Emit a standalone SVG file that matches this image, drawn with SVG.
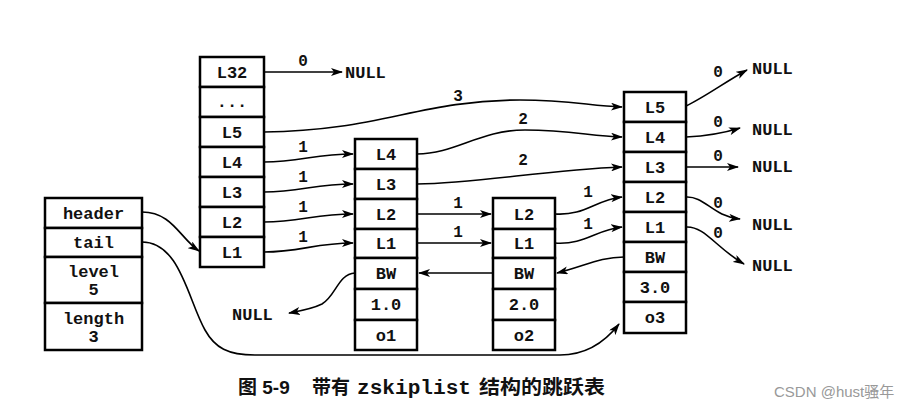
<svg xmlns="http://www.w3.org/2000/svg" width="912" height="409" viewBox="0 0 912 409">
<style>
.box{fill:#fff;stroke:#000;stroke-width:2.5}
.t{font-family:"Liberation Mono","Courier New",monospace;font-size:17px;font-weight:bold;text-anchor:middle;fill:#111}
.n{font-family:"Liberation Mono","Courier New",monospace;font-size:17px;font-weight:bold;fill:#111}
.lb{font-family:"Liberation Mono","Courier New",monospace;font-size:16px;font-weight:bold;text-anchor:middle;fill:#111}
.e{fill:none;stroke:#000;stroke-width:1.6;marker-end:url(#ah)}
.cap{font-family:"Liberation Sans","Noto Sans CJK SC",sans-serif;font-size:19px;font-weight:bold;fill:#111}
.capm{font-family:"Liberation Mono","Courier New",monospace;font-size:20px;font-weight:bold;fill:#111}
</style>
<defs>
<marker id="ah" viewBox="0 0 12 8" refX="11" refY="4" markerWidth="12" markerHeight="8" markerUnits="userSpaceOnUse" orient="auto">
<path d="M0,0 L12,4 L0,8 L3,4 Z" fill="#000"/>
</marker>
</defs>
<rect width="912" height="409" fill="#fff"/>

<g id="zskiplist">
<rect class="box" x="45" y="198" width="97" height="30"/>
<rect class="box" x="45" y="228" width="97" height="29"/>
<rect class="box" x="45" y="257" width="97" height="46"/>
<rect class="box" x="45" y="303" width="97" height="47"/>
<text class="t" x="93.5" y="219">header</text>
<text class="t" x="93.5" y="248">tail</text>
<text class="t" x="93.5" y="277">level</text>
<text class="t" x="93.5" y="295">5</text>
<text class="t" x="93.5" y="324">length</text>
<text class="t" x="93.5" y="342">3</text>
</g>

<g id="headnode">
<rect class="box" x="200" y="57" width="64" height="30"/>
<rect class="box" x="200" y="87" width="64" height="30"/>
<rect class="box" x="200" y="117" width="64" height="30"/>
<rect class="box" x="200" y="147" width="64" height="30"/>
<rect class="box" x="200" y="177" width="64" height="30"/>
<rect class="box" x="200" y="207" width="64" height="30"/>
<rect class="box" x="200" y="237" width="64" height="30"/>
<text class="t" x="232" y="78">L32</text>
<text class="t" x="232" y="107">...</text>
<text class="t" x="232" y="138">L5</text>
<text class="t" x="232" y="168">L4</text>
<text class="t" x="232" y="198">L3</text>
<text class="t" x="232" y="228">L2</text>
<text class="t" x="232" y="258">L1</text>
</g>

<g id="node1">
<rect class="box" x="355" y="139" width="62" height="30"/>
<rect class="box" x="355" y="169" width="62" height="30"/>
<rect class="box" x="355" y="199" width="62" height="30"/>
<rect class="box" x="355" y="229" width="62" height="29"/>
<rect class="box" x="355" y="258" width="62" height="31"/>
<rect class="box" x="355" y="289" width="62" height="31"/>
<rect class="box" x="355" y="320" width="62" height="30"/>
<text class="t" x="386" y="160">L4</text>
<text class="t" x="386" y="190">L3</text>
<text class="t" x="386" y="220">L2</text>
<text class="t" x="386" y="249">L1</text>
<text class="t" x="386" y="279">BW</text>
<text class="t" x="386" y="310">1.0</text>
<text class="t" x="386" y="341">o1</text>
</g>

<g id="node2">
<rect class="box" x="493" y="198" width="62" height="31"/>
<rect class="box" x="493" y="229" width="62" height="29"/>
<rect class="box" x="493" y="258" width="62" height="31"/>
<rect class="box" x="493" y="289" width="62" height="31"/>
<rect class="box" x="493" y="320" width="62" height="30"/>
<text class="t" x="524" y="220">L2</text>
<text class="t" x="524" y="249">L1</text>
<text class="t" x="524" y="279">BW</text>
<text class="t" x="524" y="310">2.0</text>
<text class="t" x="524" y="341">o2</text>
</g>

<g id="node3">
<rect class="box" x="624" y="92" width="62" height="30"/>
<rect class="box" x="624" y="122" width="62" height="30"/>
<rect class="box" x="624" y="152" width="62" height="30"/>
<rect class="box" x="624" y="182" width="62" height="30"/>
<rect class="box" x="624" y="212" width="62" height="30"/>
<rect class="box" x="624" y="242" width="62" height="30"/>
<rect class="box" x="624" y="272" width="62" height="30"/>
<rect class="box" x="624" y="302" width="62" height="31"/>
<text class="t" x="655" y="113">L5</text>
<text class="t" x="655" y="143">L4</text>
<text class="t" x="655" y="173">L3</text>
<text class="t" x="655" y="203">L2</text>
<text class="t" x="655" y="233">L1</text>
<text class="t" x="655" y="263">BW</text>
<text class="t" x="655" y="293">3.0</text>
<text class="t" x="655" y="323">o3</text>
</g>

<g id="nulls">
<text class="n" x="345" y="78">NULL</text>
<text class="n" x="232" y="320">NULL</text>
<text class="n" x="752" y="74">NULL</text>
<text class="n" x="752" y="135">NULL</text>
<text class="n" x="752" y="172">NULL</text>
<text class="n" x="752" y="230">NULL</text>
<text class="n" x="752" y="271">NULL</text>
</g>

<g id="connectors">
<path class="e" d="M264,72 L342,72"/>
<path class="e" d="M264,132 C380,131 420,100 520,100 C570,100 590,106 622,107"/>
<path class="e" d="M264,162 C300,162 315,154 353,154"/>
<path class="e" d="M264,192 C300,192 315,184 353,184"/>
<path class="e" d="M264,222 C300,222 315,214 353,214"/>
<path class="e" d="M264,252 C300,252 315,243 353,243"/>
<path class="e" d="M142,212 C172,212 180,238 199,251"/>
<path class="e" d="M417,154 C455,154 480,130 525,130 C570,130 590,136 622,137"/>
<path class="e" d="M417,184 C480,183 545,170 622,167"/>
<path class="e" d="M417,214 L491,214"/>
<path class="e" d="M417,243 L491,243"/>
<path class="e" d="M555,214 C585,216 595,200 622,197"/>
<path class="e" d="M555,243 C585,245 595,230 622,227"/>
<path class="e" d="M493,273 L419,273"/>
<path class="e" d="M624,257 C600,257 585,266 557,273"/>
<path class="e" d="M355,273 C338,274 336,296 322,304 C312,309 300,311 289,313"/>
<path class="e" d="M142,242 C180,242 188,300 205,330 C215,348 228,355 255,355 L560,355 C585,355 605,342 619,324"/>
<path class="e" d="M686,106 C705,97 725,82 747,70"/>
<path class="e" d="M686,137 C708,136 724,133 740,128"/>
<path class="e" d="M686,167 L738,167"/>
<path class="e" d="M686,197 C705,196 712,216 740,219"/>
<path class="e" d="M686,227 C705,226 716,248 744,264"/>
</g>

<g id="labels">
<text class="lb" x="303" y="66">0</text>
<text class="lb" x="458" y="101">3</text>
<text class="lb" x="303" y="152">1</text>
<text class="lb" x="303" y="182">1</text>
<text class="lb" x="303" y="212">1</text>
<text class="lb" x="303" y="242">1</text>
<text class="lb" x="523" y="124">2</text>
<text class="lb" x="523" y="165">2</text>
<text class="lb" x="458" y="208">1</text>
<text class="lb" x="458" y="237">1</text>
<text class="lb" x="588" y="197">1</text>
<text class="lb" x="588" y="229">1</text>
<text class="lb" x="718" y="77">0</text>
<text class="lb" x="718" y="127">0</text>
<text class="lb" x="718" y="161">0</text>
<text class="lb" x="718" y="208">0</text>
<text class="lb" x="718" y="238">0</text>
</g>

<g id="caption">
<text class="cap" x="238" y="394">图 5-9</text>
<text class="cap" x="312" y="394">带有</text>
<text class="capm" x="357" y="394" textLength="114" lengthAdjust="spacingAndGlyphs">zskiplist</text>
<text class="cap" x="479" y="394" textLength="126" lengthAdjust="spacingAndGlyphs">结构的跳跃表</text>
</g>
<text x="774" y="397" font-family="'Liberation Sans','Noto Sans CJK SC',sans-serif" font-size="15" fill="#999">CSDN @hust骚年</text>
</svg>
